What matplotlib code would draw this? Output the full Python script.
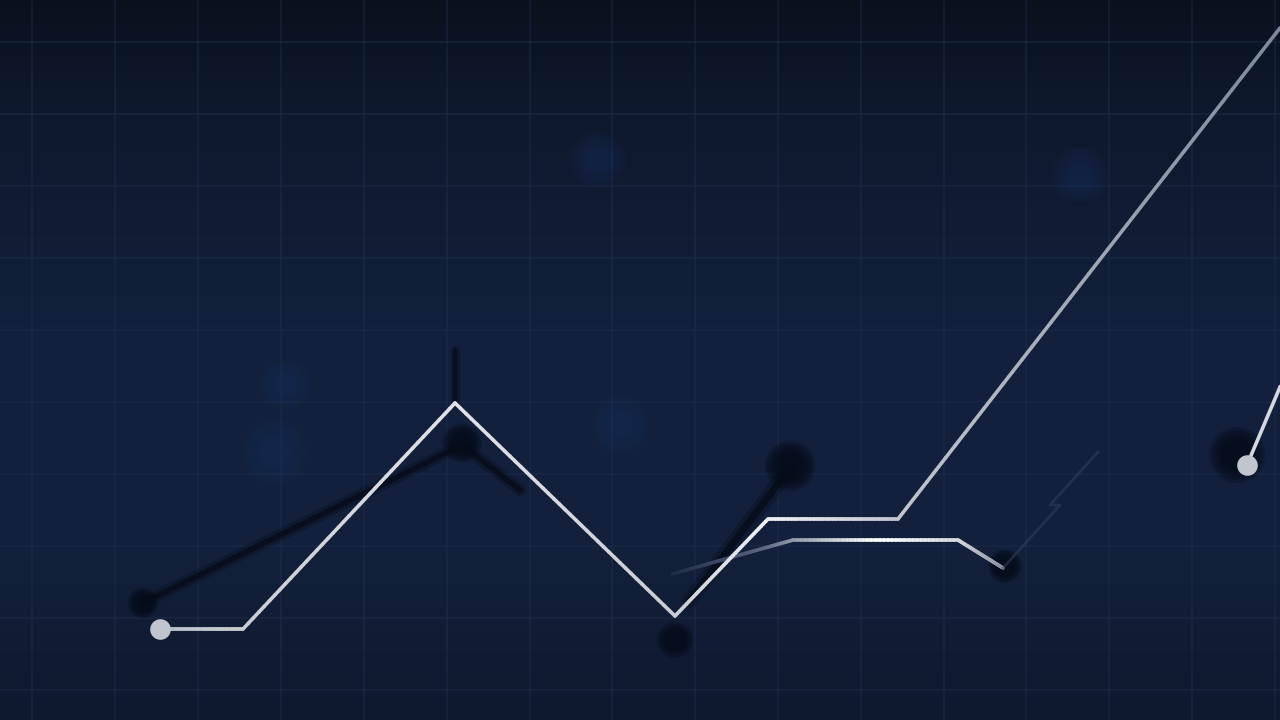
import matplotlib
matplotlib.use("Agg")
import matplotlib.pyplot as plt
import numpy as np
from matplotlib.collections import LineCollection
from matplotlib.colors import LinearSegmentedColormap

# main bright trend line (x, y in picture units, y grows downward)
main_x = [160, 243, 455, 675, 768, 898, 1280]
main_y = [629, 629, 403, 616, 519, 519, 28]

# second silver line
second_x = [672, 793, 958, 1003]
second_y = [574, 540, 540, 568]

# faint lightning tail after second line
tail_x = [1003, 1060, 1050, 1098]
tail_y = [568, 505, 505, 452]

# right-hand short segment
right_x = [1247, 1280]
right_y = [465, 387]

# dark shadow lines
shadow1_x = [143, 462, 520]
shadow1_y = [603, 445, 490]
shadow2_x = [690, 790]
shadow2_y = [600, 468]
spike_x = [455, 455]
spike_y = [350, 400]

# dark blobs
blob_x = [143, 462, 790, 675, 1005, 1237]
blob_y = [603, 443, 466, 640, 566, 455]
blob_r = [11, 14, 18, 13, 12, 20]

# soft blue glows
glow_x = [275, 598, 1080, 620, 285]
glow_y = [452, 160, 175, 425, 385]
glow_r = [34, 28, 28, 30, 26]

# grid positions
grid_x = [32, 115, 198, 281, 364, 447, 530, 612, 695, 778, 861, 944, 1026, 1109, 1192, 1275]
grid_y = [42, 114, 186, 258, 330, 402, 474, 546, 618, 690]

W, H = 1280, 720
fig = plt.figure(figsize=(12.8, 7.2), dpi=100)
ax = fig.add_axes([0, 0, 1, 1])
ax.set_xlim(0, W)
ax.set_ylim(H, 0)
ax.axis("off")

# background: vertical gradient
bg = LinearSegmentedColormap.from_list(
    "bg", [(0.0, "#09111d"), (0.12, "#0e182b"), (0.45, "#12203b"),
           (0.75, "#13213c"), (1.0, "#0e192e")])
grad = np.linspace(0, 1, 256).reshape(-1, 1)
ax.imshow(grad, cmap=bg, extent=[0, W, H, 0], aspect="auto", zorder=0)

for gx in grid_x:
    ax.axvline(gx, color="#1f3050", lw=1.2, alpha=0.45, zorder=1)
for gy in grid_y:
    ax.axhline(gy, color="#1f3050", lw=1.2, alpha=0.45, zorder=1)

# glows
for x, y, r in zip(glow_x, glow_y, glow_r):
    for k in range(6):
        ax.add_patch(plt.Circle((x, y), r * (1 - k * 0.12), color="#1d3566",
                                alpha=0.08, lw=0, zorder=1))

# shadows, drawn in layers to look blurred
for x, y, r in zip(blob_x, blob_y, blob_r):
    for k in range(5):
        ax.add_patch(plt.Circle((x, y), r * (1.4 - k * 0.15), color="#050b17",
                                alpha=0.27, lw=0, zorder=2))
for xs, ys, w in [(shadow1_x, shadow1_y, 4), (shadow2_x, shadow2_y, 5),
                  (spike_x, spike_y, 3)]:
    ax.plot(xs, ys, color="#050b17", lw=w * 2.2, alpha=0.3,
            solid_capstyle="round", zorder=2)
    ax.plot(xs, ys, color="#050b17", lw=w, alpha=0.75,
            solid_capstyle="round", zorder=2)


def shaded_line(xs, ys, colors, lw, z):
    # split into fine segments so colour can vary along the path
    px, py = [], []
    for i in range(len(xs) - 1):
        t = np.linspace(0, 1, 40, endpoint=False)
        px.extend(xs[i] + (xs[i + 1] - xs[i]) * t)
        py.extend(ys[i] + (ys[i + 1] - ys[i]) * t)
    px.append(xs[-1])
    py.append(ys[-1])
    pts = np.column_stack([px, py]).reshape(-1, 1, 2)
    segs = np.concatenate([pts[:-1], pts[1:]], axis=1)
    cmap = LinearSegmentedColormap.from_list("l", colors)
    lc = LineCollection(segs, cmap=cmap, lw=lw, capstyle="round",
                        joinstyle="miter", zorder=z)
    lc.set_array(np.linspace(0, 1, len(segs)))
    ax.add_collection(lc)


shaded_line(main_x, main_y,
            ["#b9bfca", "#c8ccd4", "#e0e3e8", "#c9cdd4", "#f0f2f5", "#c2c7d0", "#7e8a9c"],
            2.6, 4)
shaded_line(second_x, second_y,
            ["#1e2c48", "#5a6680", "#ffffff", "#c4c8d0", "#8a93a3"], 2.6, 3)
ax.plot(tail_x, tail_y, color="#33435c", lw=2, alpha=0.5, zorder=3)
ax.plot(right_x, right_y, color="#d4d8e0", lw=2.6, zorder=4)

ax.scatter([main_x[0], right_x[0]], [main_y[0], right_y[0]], s=220,
           color="#c0c5cf", lw=0, zorder=5)

fig.savefig("out.png", dpi=100)
